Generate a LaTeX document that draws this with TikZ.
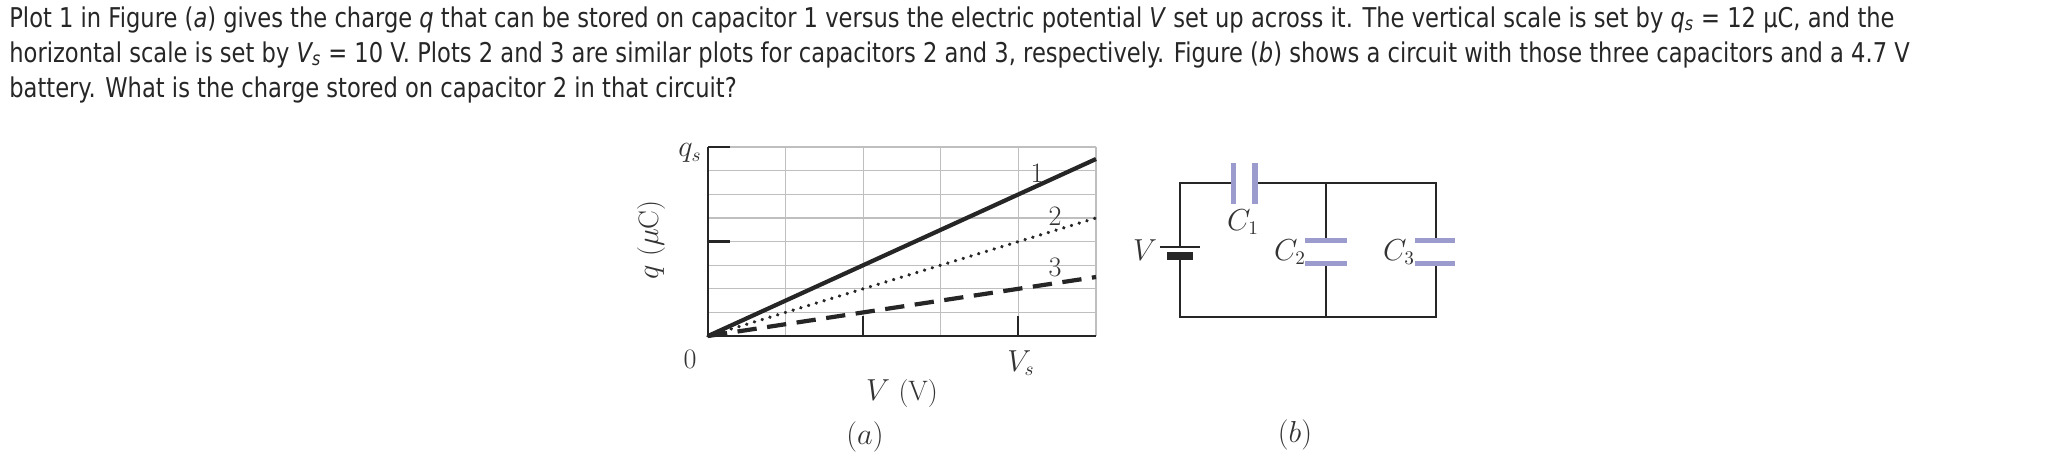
\documentclass[tikz,border=0pt]{standalone}
\usepackage{fontspec}
\newfontfamily\qfont[FakeStretch=0.83]{DejaVu Sans}
\definecolor{plate}{RGB}{155,155,205}
\begin{document}
\begin{tikzpicture}[x=0.02cm,y=-0.02cm,
  qtext/.style={anchor=base west,inner sep=0pt,font=\qfont\fontsize{15.5}{18}\selectfont,text=black!85},
  lbl/.style={inner sep=0pt,font=\fontsize{16}{19}\selectfont,text=black!80},
  grid/.style={draw=black!25,line width=0.6pt},
  wire/.style={draw=black!85,line width=1.4pt},
  cplate/.style={fill=plate,draw=none}]
\useasboundingbox (0,0) rectangle (2046,461);
\node[qtext] (t1) at (9,27) {Plot 1 in Figure (\textit{a}) gives the charge \textit{q} that can be stored on capacitor 1 versus the electric potential \textit{V} set up across it. The vertical scale is set by \textit{q\textsubscript{s}} = 12 µC, and the};
\node[qtext] (t2) at (9,62) {horizontal scale is set by \textit{V\textsubscript{s}} = 10 V. Plots 2 and 3 are similar plots for capacitors 2 and 3, respectively. Figure (\textit{b}) shows a circuit with those three capacitors and a 4.7 V};
\node[qtext] (t3) at (9,97) {battery. What is the charge stored on capacitor 2 in that circuit?};
% plot (a)
\foreach \i in {1,...,4} \draw[grid] (708+77.6*\i,147) -- (708+77.6*\i,336);
\foreach \j in {1,...,7} \draw[grid] (708,336-23.6*\j) -- (1096,336-23.6*\j);
\draw[grid] (1096,147) -- (1096,336);
\draw[black!85,line width=1.2pt] (708,147) -- (708,336) -- (1096,336);
\draw[grid] (708,147) -- (1096,147);
\draw[black!85,line width=1.2pt] (708,147) -- (730,147) (708,241.5) -- (730,241.5)
  (863.2,336) -- (863.2,316) (1018.4,336) -- (1018.4,316);
\coordinate (o) at (708,336);
\coordinate (e1) at (1096,159);
\coordinate (e2) at (1096,218);
\coordinate (e3) at (1096,277);
\draw[black!85,line width=2.4pt] (o) -- (e1);
\draw[black!85,line width=2pt,dash pattern=on 0.1pt off 4.5pt,line cap=round] (o) -- (e2);
\draw[black!85,line width=2.4pt,dash pattern=on 11pt off 6pt] (o) -- (e3);
\node[lbl] (n1) at (1037,173) {1};
\node[lbl] (n2) at (1055,216) {2};
\node[lbl] (n3) at (1055,267) {3};
\node[lbl] (qs) at (690,153) {$q_s$};
\node[lbl,rotate=90] (qa) at (651,240) {$q$ ($\mu$C)};
\node[lbl] (z) at (690,359) {0};
\node[lbl] (vs) at (1021,363) {$V_s$};
\node[lbl] (va) at (902,393) {$V$ (V)};
\node[lbl] (a) at (865,437) {$(a)$};
% circuit (b)
\coordinate (tl) at (1180,183); \coordinate (bl) at (1180,317);
\coordinate (tm) at (1326,183); \coordinate (bm) at (1326,317);
\coordinate (tr) at (1436,183); \coordinate (br) at (1436,317);
\draw[wire] (1180,247) -- (tl) -- (1233,183);
\draw[wire] (1255,183) -- (tr) -- (1436,240);
\draw[wire] (tm) -- (1326,240);
\draw[wire] (1326,263) -- (bm);
\draw[wire] (1436,263) -- (br) -- (bl) -- (1180,256);
\fill[cplate] (1230.5,163) rectangle (1236,204);
\fill[cplate] (1252,163) rectangle (1257.5,204);
\fill[cplate] (1305,237.5) rectangle (1347,242.5);
\fill[cplate] (1305,260.5) rectangle (1347,265.5);
\fill[cplate] (1415,237.5) rectangle (1455,242.5);
\fill[cplate] (1415,260.5) rectangle (1455,265.5);
\draw[black!85,line width=1.4pt] (1160,247) -- (1200,247);
\draw[black!85,line width=4pt] (1167,256) -- (1193,256);
\node[lbl] (V) at (1145,250) {$V$};
\node[lbl] (c1) at (1243,222) {$C_1$};
\node[lbl] (c2) at (1290,252) {$C_2$};
\node[lbl] (c3) at (1399,252) {$C_3$};
\node[lbl] (b) at (1295,435) {$(b)$};
\end{tikzpicture}
\end{document}
